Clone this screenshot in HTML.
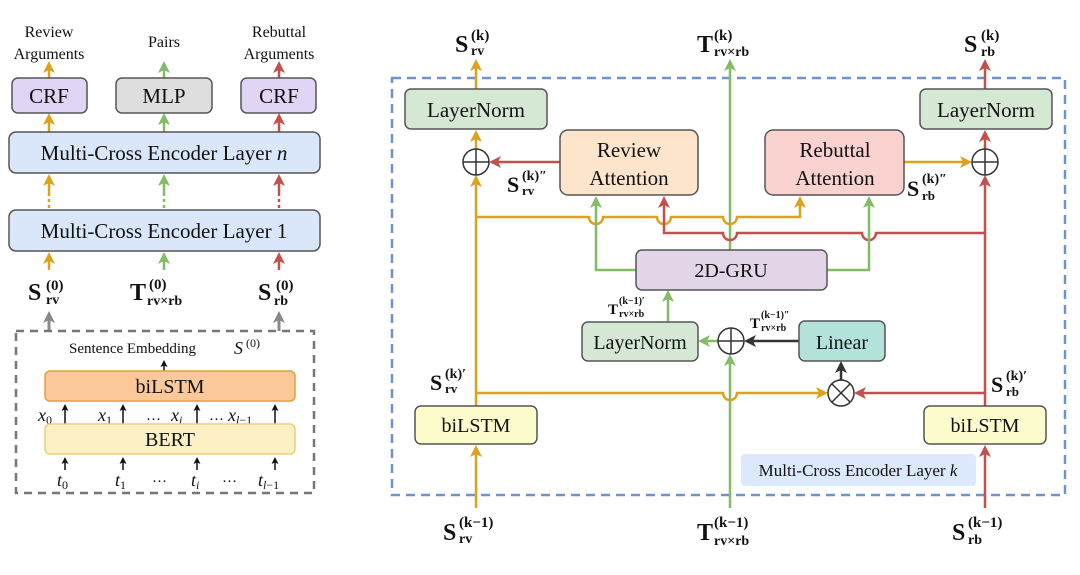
<!DOCTYPE html>
<html><head><meta charset="utf-8"><style>
html,body{margin:0;padding:0;background:#fff;}
svg{display:block;}
text{font-family:"Liberation Serif",serif;fill:#111;}
.b{font-weight:bold;}
</style></head><body>
<svg width="1080" height="575" viewBox="0 0 1080 575" xmlns="http://www.w3.org/2000/svg">
<defs>
<marker id="ao" markerWidth="12" markerHeight="12" refX="9" refY="6" orient="auto" markerUnits="userSpaceOnUse"><path d="M0,0 L12,6 L0,12 L3,6 z" fill="#dfa11b"/></marker>
<marker id="ag" markerWidth="12" markerHeight="12" refX="9" refY="6" orient="auto" markerUnits="userSpaceOnUse"><path d="M0,0 L12,6 L0,12 L3,6 z" fill="#84bb66"/></marker>
<marker id="ar" markerWidth="12" markerHeight="12" refX="9" refY="6" orient="auto" markerUnits="userSpaceOnUse"><path d="M0,0 L12,6 L0,12 L3,6 z" fill="#c4504c"/></marker>
<marker id="ak" markerWidth="12" markerHeight="12" refX="9" refY="6" orient="auto" markerUnits="userSpaceOnUse"><path d="M0,0 L12,6 L0,12 L3,6 z" fill="#333"/></marker>
<marker id="agr" markerWidth="12" markerHeight="12" refX="9" refY="6" orient="auto" markerUnits="userSpaceOnUse"><path d="M0,0 L12,6 L0,12 L3,6 z" fill="#888"/></marker>
<marker id="ab" markerWidth="7" markerHeight="7" refX="5" refY="3.5" orient="auto" markerUnits="userSpaceOnUse"><path d="M0,0 L7,3.5 L0,7 L1.5,3.5 z" fill="#111"/></marker>
</defs>

<!-- LEFT PANEL -->
<text x="49" y="37" font-size="16" text-anchor="middle">Review</text>
<text x="49" y="59" font-size="16" text-anchor="middle">Arguments</text>
<text x="164" y="47" font-size="16" text-anchor="middle">Pairs</text>
<text x="279" y="37" font-size="16" text-anchor="middle">Rebuttal</text>
<text x="279" y="59" font-size="16" text-anchor="middle">Arguments</text>

<g stroke-width="2.5" fill="none">
<line x1="49" y1="78" x2="49" y2="64" stroke="#dfa11b" marker-end="url(#ao)"/>
<line x1="164" y1="78" x2="164" y2="64" stroke="#84bb66" marker-end="url(#ag)"/>
<line x1="279" y1="78" x2="279" y2="64" stroke="#c4504c" marker-end="url(#ar)"/>
<line x1="49" y1="132" x2="49" y2="116" stroke="#dfa11b" marker-end="url(#ao)"/>
<line x1="164" y1="132" x2="164" y2="116" stroke="#84bb66" marker-end="url(#ag)"/>
<line x1="279" y1="132" x2="279" y2="116" stroke="#c4504c" marker-end="url(#ar)"/>
<line x1="49" y1="208" x2="49" y2="192" stroke="#dfa11b" stroke-dasharray="3,3"/>
<line x1="49" y1="193" x2="49" y2="177" stroke="#dfa11b" marker-end="url(#ao)"/>
<line x1="164" y1="208" x2="164" y2="192" stroke="#84bb66" stroke-dasharray="3,3"/>
<line x1="164" y1="193" x2="164" y2="177" stroke="#84bb66" marker-end="url(#ag)"/>
<line x1="279" y1="208" x2="279" y2="192" stroke="#c4504c" stroke-dasharray="3,3"/>
<line x1="279" y1="193" x2="279" y2="177" stroke="#c4504c" marker-end="url(#ar)"/>
<line x1="49" y1="270" x2="49" y2="255" stroke="#dfa11b" marker-end="url(#ao)"/>
<line x1="164" y1="270" x2="164" y2="255" stroke="#84bb66" marker-end="url(#ag)"/>
<line x1="279" y1="270" x2="279" y2="255" stroke="#c4504c" marker-end="url(#ar)"/>
<line x1="49" y1="331" x2="49" y2="314" stroke="#888" stroke-width="3" marker-end="url(#agr)"/>
<line x1="279" y1="331" x2="279" y2="314" stroke="#888" stroke-width="3" marker-end="url(#agr)"/>
</g>

<rect x="12" y="78" width="75" height="35" rx="6" fill="#e1d5f5" stroke="#555" stroke-width="1.5"/>
<text x="49" y="103" font-size="21" text-anchor="middle">CRF</text>
<rect x="116" y="78" width="96" height="35" rx="6" fill="#dedede" stroke="#555" stroke-width="1.5"/>
<text x="164" y="103" font-size="21" text-anchor="middle" fill="#333">MLP</text>
<rect x="241" y="78" width="75" height="35" rx="6" fill="#e1d5f5" stroke="#555" stroke-width="1.5"/>
<text x="279" y="103" font-size="21" text-anchor="middle">CRF</text>

<rect x="9" y="132" width="311" height="41" rx="7" fill="#dae7fb" stroke="#555" stroke-width="1.5"/>
<text x="164" y="160" font-size="21" text-anchor="middle">Multi-Cross Encoder Layer <tspan font-style="italic">n</tspan></text>
<rect x="9" y="210" width="311" height="41" rx="7" fill="#dae7fb" stroke="#555" stroke-width="1.5"/>
<text x="164" y="238" font-size="21" text-anchor="middle">Multi-Cross Encoder Layer 1</text>

<!-- S0 labels -->
<text x="28" y="300" font-size="24" class="b">S</text>
<text x="46" y="290" font-size="15" class="b">(0)</text>
<text x="46" y="304" font-size="14" class="b">rv</text>
<text x="130" y="300" font-size="24" class="b">T</text>
<text x="149" y="289" font-size="15" class="b">(0)</text>
<text x="147" y="305" font-size="14" class="b">rv×rb</text>
<text x="258" y="300" font-size="24" class="b">S</text>
<text x="276" y="290" font-size="15" class="b">(0)</text>
<text x="274" y="305" font-size="14" class="b">rb</text>

<rect x="16" y="331" width="298" height="162" fill="none" stroke="#777" stroke-width="2.5" stroke-dasharray="8,6"/>
<text x="69" y="353" font-size="15">Sentence Embedding</text>
<text x="234" y="354" font-size="18" font-style="italic">S</text>
<text x="246" y="347" font-size="12">(0)</text>
<line x1="164" y1="371" x2="164" y2="362" stroke="#111" stroke-width="1.5" marker-end="url(#ab)"/>
<rect x="45" y="371" width="250" height="30" rx="5" fill="#fbc999" stroke="#e3a13a" stroke-width="1.5"/>
<text x="170" y="393" font-size="20" text-anchor="middle">biLSTM</text>
<g stroke="#111" stroke-width="1.5">
<line x1="65" y1="424" x2="65" y2="406" marker-end="url(#ab)"/>
<line x1="123" y1="424" x2="123" y2="406" marker-end="url(#ab)"/>
<line x1="197" y1="424" x2="197" y2="406" marker-end="url(#ab)"/>
<line x1="275" y1="424" x2="275" y2="406" marker-end="url(#ab)"/>
<line x1="65" y1="470" x2="65" y2="459" marker-end="url(#ab)"/>
<line x1="123" y1="470" x2="123" y2="459" marker-end="url(#ab)"/>
<line x1="197" y1="470" x2="197" y2="459" marker-end="url(#ab)"/>
<line x1="275" y1="470" x2="275" y2="459" marker-end="url(#ab)"/>
</g>
<text x="38" y="421" font-size="18" font-style="italic">x<tspan font-size="12" dy="3" font-style="normal">0</tspan></text>
<text x="98" y="421" font-size="18" font-style="italic">x<tspan font-size="12" dy="3" font-style="normal">1</tspan></text>
<text x="146" y="420" font-size="15">…</text>
<text x="171" y="421" font-size="18" font-style="italic">x<tspan font-size="12" dy="3">i</tspan></text>
<text x="209" y="420" font-size="15">…</text>
<text x="228" y="421" font-size="18" font-style="italic">x<tspan font-size="12" dy="3">l</tspan><tspan font-size="12" font-style="normal">−1</tspan></text>
<rect x="45" y="424" width="250" height="30" rx="5" fill="#fdf0c5" stroke="#e8cf7c" stroke-width="1.5"/>
<text x="170" y="446" font-size="20" text-anchor="middle">BERT</text>
<text x="57" y="486" font-size="18" font-style="italic">t<tspan font-size="12" dy="3" font-style="normal">0</tspan></text>
<text x="115" y="486" font-size="18" font-style="italic">t<tspan font-size="12" dy="3" font-style="normal">1</tspan></text>
<text x="152" y="482" font-size="15">…</text>
<text x="191" y="486" font-size="18" font-style="italic">t<tspan font-size="12" dy="3">i</tspan></text>
<text x="222" y="482" font-size="15">…</text>
<text x="258" y="486" font-size="18" font-style="italic">t<tspan font-size="12" dy="3">l</tspan><tspan font-size="12" font-style="normal">−1</tspan></text>

<!-- RIGHT PANEL -->
<rect x="392" y="78" width="673" height="417" fill="none" stroke="#6d93cc" stroke-width="2.5" stroke-dasharray="9,6"/>
<rect x="741" y="454" width="235" height="32" rx="4" fill="#dce8fb"/>
<text x="858" y="476" font-size="17" text-anchor="middle">Multi-Cross Encoder Layer <tspan font-style="italic">k</tspan></text>

<g fill="none" stroke-width="2.5">
<line x1="476" y1="89" x2="476" y2="62" stroke="#dfa11b" marker-end="url(#ao)"/>
<line x1="985" y1="89" x2="985" y2="62" stroke="#c4504c" marker-end="url(#ar)"/>
<line x1="730" y1="250" x2="730" y2="62" stroke="#84bb66" marker-end="url(#ag)"/>
<line x1="476" y1="149" x2="476" y2="133" stroke="#dfa11b" marker-end="url(#ao)"/>
<line x1="985" y1="149" x2="985" y2="133" stroke="#c4504c" marker-end="url(#ar)"/>
<line x1="560" y1="162" x2="492" y2="162" stroke="#c4504c" marker-end="url(#ar)"/>
<line x1="904" y1="162" x2="969" y2="162" stroke="#dfa11b" marker-end="url(#ao)"/>
<line x1="476" y1="406" x2="476" y2="178" stroke="#dfa11b" marker-end="url(#ao)"/>
<line x1="985" y1="406" x2="985" y2="178" stroke="#c4504c" marker-end="url(#ar)"/>
<path d="M476,217 H589 a7,7 0 0 0 14,0 H657 a7,7 0 0 0 14,0 H723 a7,7 0 0 0 14,0 H800 V199" stroke="#dfa11b" marker-end="url(#ao)"/>
<path d="M985,233 H876 a7,7 0 0 1 -14,0 H737 a7,7 0 0 1 -14,0 H664 V199" stroke="#c4504c" marker-end="url(#ar)"/>
<path d="M636,270 H596 V199" stroke="#84bb66" marker-end="url(#ag)"/>
<path d="M827,270 H869 V199" stroke="#84bb66" marker-end="url(#ag)"/>
<line x1="668" y1="322" x2="668" y2="293" stroke="#84bb66" marker-end="url(#ag)"/>
<line x1="718" y1="341" x2="701" y2="341" stroke="#84bb66" marker-end="url(#ag)"/>
<line x1="799" y1="341" x2="747" y2="341" stroke="#333" marker-end="url(#ak)"/>
<line x1="730" y1="508" x2="730" y2="357" stroke="#84bb66" marker-end="url(#ag)"/>
<line x1="841" y1="380" x2="841" y2="364" stroke="#333" marker-end="url(#ak)"/>
<path d="M476,393 H723 a7,7 0 0 0 14,0 H825" stroke="#dfa11b" marker-end="url(#ao)"/>
<path d="M985,393 H857" stroke="#c4504c" marker-end="url(#ar)"/>
<line x1="476" y1="508" x2="476" y2="448" stroke="#dfa11b" marker-end="url(#ao)"/>
<line x1="985" y1="508" x2="985" y2="448" stroke="#c4504c" marker-end="url(#ar)"/>
</g>

<rect x="405" y="89" width="142" height="40" rx="6" fill="#d5e8d4" stroke="#555" stroke-width="1.5"/>
<text x="476" y="117" font-size="21" text-anchor="middle">LayerNorm</text>
<rect x="920" y="89" width="132" height="40" rx="6" fill="#d5e8d4" stroke="#555" stroke-width="1.5"/>
<text x="986" y="117" font-size="21" text-anchor="middle">LayerNorm</text>
<rect x="560" y="130" width="138" height="65" rx="8" fill="#fde5cc" stroke="#555" stroke-width="1.5"/>
<text x="629" y="157" font-size="21" text-anchor="middle">Review</text>
<text x="629" y="185" font-size="21" text-anchor="middle">Attention</text>
<rect x="765" y="130" width="139" height="65" rx="8" fill="#f9d2d0" stroke="#555" stroke-width="1.5"/>
<text x="835" y="157" font-size="21" text-anchor="middle">Rebuttal</text>
<text x="835" y="185" font-size="21" text-anchor="middle">Attention</text>
<rect x="636" y="250" width="191" height="40" rx="6" fill="#e1d5e7" stroke="#555" stroke-width="1.5"/>
<text x="731" y="277" font-size="20" text-anchor="middle">2D-GRU</text>
<rect x="582" y="322" width="116" height="39" rx="6" fill="#d5e8d4" stroke="#555" stroke-width="1.5"/>
<text x="640" y="349" font-size="20" text-anchor="middle">LayerNorm</text>
<rect x="799" y="321" width="86" height="40" rx="6" fill="#b3e2da" stroke="#555" stroke-width="1.5"/>
<text x="842" y="349" font-size="20" text-anchor="middle">Linear</text>
<rect x="415" y="406" width="122" height="38" rx="6" fill="#fdfccd" stroke="#555" stroke-width="1.5"/>
<text x="476" y="432" font-size="20" text-anchor="middle">biLSTM</text>
<rect x="924" y="406" width="122" height="38" rx="6" fill="#fdfccd" stroke="#555" stroke-width="1.5"/>
<text x="985" y="432" font-size="20" text-anchor="middle">biLSTM</text>

<g fill="#fff" stroke="#333" stroke-width="1.5">
<circle cx="476" cy="162" r="13"/><path d="M463,162 H489 M476,149 V175"/>
<circle cx="985" cy="162" r="13"/><path d="M972,162 H998 M985,149 V175"/>
<circle cx="731" cy="341" r="13"/><path d="M718,341 H744 M731,328 V354"/>
<circle cx="841" cy="393" r="13"/><path d="M832,384 L850,402 M850,384 L832,402"/>
</g>

<text x="455" y="52" font-size="24" class="b">S</text>
<text x="471" y="40" font-size="15" class="b">(k)</text>
<text x="471" y="55" font-size="14" class="b">rv</text>
<text x="697" y="52" font-size="24" class="b">T</text>
<text x="714" y="40" font-size="15" class="b">(k)</text>
<text x="714" y="56" font-size="14" class="b">rv×rb</text>
<text x="964" y="52" font-size="24" class="b">S</text>
<text x="981" y="40" font-size="15" class="b">(k)</text>
<text x="981" y="56" font-size="14" class="b">rb</text>

<text x="507" y="192" font-size="22" class="b">S</text>
<text x="522" y="180" font-size="14" class="b">(k)″</text>
<text x="522" y="195" font-size="13" class="b">rv</text>
<text x="907" y="196" font-size="22" class="b">S</text>
<text x="922" y="183" font-size="14" class="b">(k)″</text>
<text x="922" y="200" font-size="13" class="b">rb</text>

<text x="430" y="390" font-size="22" class="b">S</text>
<text x="445" y="378" font-size="14" class="b">(k)′</text>
<text x="445" y="393" font-size="13" class="b">rv</text>
<text x="991" y="392" font-size="22" class="b">S</text>
<text x="1006" y="380" font-size="14" class="b">(k)′</text>
<text x="1006" y="396" font-size="13" class="b">rb</text>

<text x="608" y="314" font-size="15" class="b">T</text>
<text x="619" y="304" font-size="10" class="b">(k−1)′</text>
<text x="619" y="317" font-size="10" class="b">rv×rb</text>
<text x="750" y="328" font-size="15" class="b">T</text>
<text x="761" y="318" font-size="10" class="b">(k−1)″</text>
<text x="761" y="331" font-size="10" class="b">rv×rb</text>

<text x="443" y="540" font-size="24" class="b">S</text>
<text x="459" y="527" font-size="15" class="b">(k−1)</text>
<text x="459" y="543" font-size="14" class="b">rv</text>
<text x="697" y="540" font-size="24" class="b">T</text>
<text x="714" y="527" font-size="15" class="b">(k−1)</text>
<text x="714" y="545" font-size="14" class="b">rv×rb</text>
<text x="952" y="540" font-size="24" class="b">S</text>
<text x="968" y="527" font-size="15" class="b">(k−1)</text>
<text x="968" y="544" font-size="14" class="b">rb</text>
</svg>
</body></html>
